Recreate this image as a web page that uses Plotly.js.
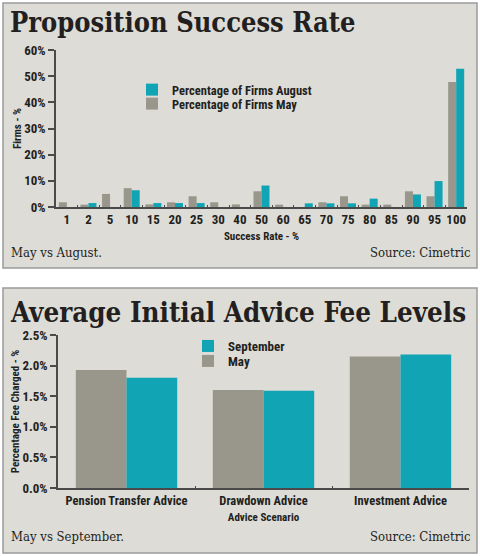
<!DOCTYPE html>
<html>
<head>
<meta charset="utf-8">
<script src="https://cdn.plot.ly/plotly-3.0.1.min.js"></script>
<style>
html,body{margin:0;padding:0;background:#ffffff;}
#chart{width:480px;height:556px;}
</style>
</head>
<body>
<div id="chart"></div>
<script>
// ---- Chart 1: Proposition Success Rate ----
const successRates = ["1","2","5","10","15","20","25","30","40","50","60","65","70","75","80","85","90","95","100"];
const firmsMay =    [1.8, 0.9, 5.0, 7.2, 1.0, 1.8, 4.1, 1.8, 1.0, 6.0, 0.9, 0,   1.8, 4.1, 0.9, 0.9, 6.0, 4.1, 47.8];
const firmsAugust = [0,   1.5, 0,   6.4, 1.5, 1.5, 1.5, 0,   0,   8.2, 0,   1.4, 1.4, 1.4, 3.2, 0,   4.8, 9.9, 52.8];

// ---- Chart 2: Average Initial Advice Fee Levels ----
const adviceScenarios = ["Pension Transfer Advice","Drawdown Advice","Investment Advice"];
const feeMay =       [1.93, 1.60, 2.15];
const feeSeptember = [1.80, 1.59, 2.18];

const TEAL = "#11a4b4";
const GREY = "#99978b";
const BG = "#dddcd7";
const AXIS = "#4a4a4a";
const NARROW = "'Roboto Condensed', 'DejaVu Sans Condensed', sans-serif";
const SLAB = "'DejaVu Serif Condensed', 'DejaVu Serif', serif";
const TXT = "#231f20";

const W = 480, H = 556;
const px = x => x / W;
const py = y => 1 - y / H;

const traces = [
  {type:"bar", x: successRates, y: firmsMay, name:"Percentage of Firms May",
   marker:{color:GREY, line:{width:0}}, xaxis:"x", yaxis:"y", legend:"legend2",
   hovertemplate:"%{x}: %{y}%<extra>May</extra>"},
  {type:"bar", x: successRates, y: firmsAugust, name:"Percentage of Firms August",
   marker:{color:TEAL, line:{width:0}}, xaxis:"x", yaxis:"y", legend:"legend",
   hovertemplate:"%{x}: %{y}%<extra>August</extra>"},
  {type:"bar", x: adviceScenarios, y: feeMay, name:"May",
   marker:{color:GREY, line:{width:0}}, xaxis:"x2", yaxis:"y2", legend:"legend4",
   hovertemplate:"%{x}: %{y}%<extra>May</extra>"},
  {type:"bar", x: adviceScenarios, y: feeSeptember, name:"September",
   marker:{color:TEAL, line:{width:0}}, xaxis:"x2", yaxis:"y2", legend:"legend3",
   hovertemplate:"%{x}: %{y}%<extra>September</extra>"}
];

const tickFont = {family: NARROW, size: 13, color: TXT, weight: "bold"};
const titleFont = {family: NARROW, size: 11, color: TXT, weight: "bold"};

function leg(x, y, size) {
  return {x: px(x), y: py(y), xanchor: "left", yanchor: "middle",
          bgcolor: "rgba(0,0,0,0)", itemwidth: 30, borderwidth: 0,
          font: {family: NARROW, size: size, color: TXT, weight: "bold"}};
}

const layout = {
  width: W, height: H,
  margin: {l:0, r:0, t:0, b:0},
  paper_bgcolor: "#ffffff",
  plot_bgcolor: "rgba(0,0,0,0)",
  barmode: "group",
  bargap: 0.26,
  bargroupgap: 0,
  showlegend: true,
  font: {family: NARROW, color: TXT},
  xaxis: {
    domain: [px(56), px(467)], anchor: "y", type: "category",
    showline: true, linecolor: AXIS, linewidth: 1.5,
    ticks: "inside", tickson: "boundaries", ticklen: 2, tickcolor: AXIS,
    tickfont: tickFont, tickangle: 0, showgrid: false, zeroline: false, fixedrange: true,
    title: {text: "Success Rate - %", font: titleFont, standoff: 6}
  },
  yaxis: {
    domain: [py(207), py(50)], anchor: "x", range: [0, 60], dtick: 10,
    ticksuffix: "%", showline: true, linecolor: AXIS, linewidth: 1.5,
    ticks: "outside", ticklen: 6, tickcolor: AXIS, tickwidth: 1.5,
    tickfont: tickFont, showgrid: false, zeroline: false, fixedrange: true,
    title: {text: "Firms - %", font: titleFont, standoff: 0}
  },
  xaxis2: {
    domain: [px(58), px(469)], anchor: "y2", type: "category",
    showline: true, linecolor: AXIS, linewidth: 1.5,
    ticks: "inside", tickson: "boundaries", ticklen: 2, tickcolor: AXIS,
    tickfont: {family: NARROW, size: 12.5, color: TXT, weight: "bold"}, tickangle: 0,
    showgrid: false, zeroline: false, fixedrange: true,
    title: {text: "Advice Scenario", font: titleFont, standoff: 7}
  },
  yaxis2: {
    domain: [py(488), py(335)], anchor: "x2", range: [0, 2.5], dtick: 0.5,
    tickformat: ".1f", ticksuffix: "%", showline: true, linecolor: AXIS, linewidth: 1.5,
    ticks: "outside", ticklen: 6, tickcolor: AXIS, tickwidth: 1.5,
    tickfont: tickFont, showgrid: false, zeroline: false, fixedrange: true,
    title: {text: "Percentage Fee Charged - %", font: titleFont, standoff: 0}
  },
  legend: leg(132, 90, 12.5),
  legend2: leg(132, 104, 12.5),
  legend3: leg(188, 346, 13),
  legend4: leg(188, 361, 13),
  shapes: [
    {type:"rect", xref:"paper", yref:"paper", layer:"below",
     x0: px(3), x1: px(477), y0: py(268), y1: py(3),
     fillcolor: BG, line:{color:"#9a9a9a", width:1.5}},
    {type:"rect", xref:"paper", yref:"paper", layer:"below",
     x0: px(3), x1: px(477), y0: py(553), y1: py(288),
     fillcolor: BG, line:{color:"#9a9a9a", width:1.5}}
  ],
  annotations: [
    {text: "<b>Proposition Success Rate</b>", xref:"paper", yref:"paper",
     x: px(8), y: py(23), xanchor:"left", yanchor:"middle", showarrow:false,
     font:{family: SLAB, size: 27, color: TXT}},
    {text: "May vs August.", xref:"paper", yref:"paper",
     x: px(9), y: py(252), xanchor:"left", yanchor:"middle", showarrow:false,
     font:{family: SLAB, size: 13, color: TXT}},
    {text: "Source: Cimetric", xref:"paper", yref:"paper",
     x: px(473), y: py(252), xanchor:"right", yanchor:"middle", showarrow:false,
     font:{family: SLAB, size: 13, color: TXT}},
    {text: "<b>Average Initial Advice Fee Levels</b>", xref:"paper", yref:"paper",
     x: px(8), y: py(312), xanchor:"left", yanchor:"middle", showarrow:false,
     font:{family: SLAB, size: 27.5, color: TXT}},
    {text: "May vs September.", xref:"paper", yref:"paper",
     x: px(9), y: py(536), xanchor:"left", yanchor:"middle", showarrow:false,
     font:{family: SLAB, size: 13, color: TXT}},
    {text: "Source: Cimetric", xref:"paper", yref:"paper",
     x: px(473), y: py(536), xanchor:"right", yanchor:"middle", showarrow:false,
     font:{family: SLAB, size: 13, color: TXT}}
  ]
};

Plotly.newPlot("chart", traces, layout, {displayModeBar: false, responsive: false});
</script>
</body>
</html>
